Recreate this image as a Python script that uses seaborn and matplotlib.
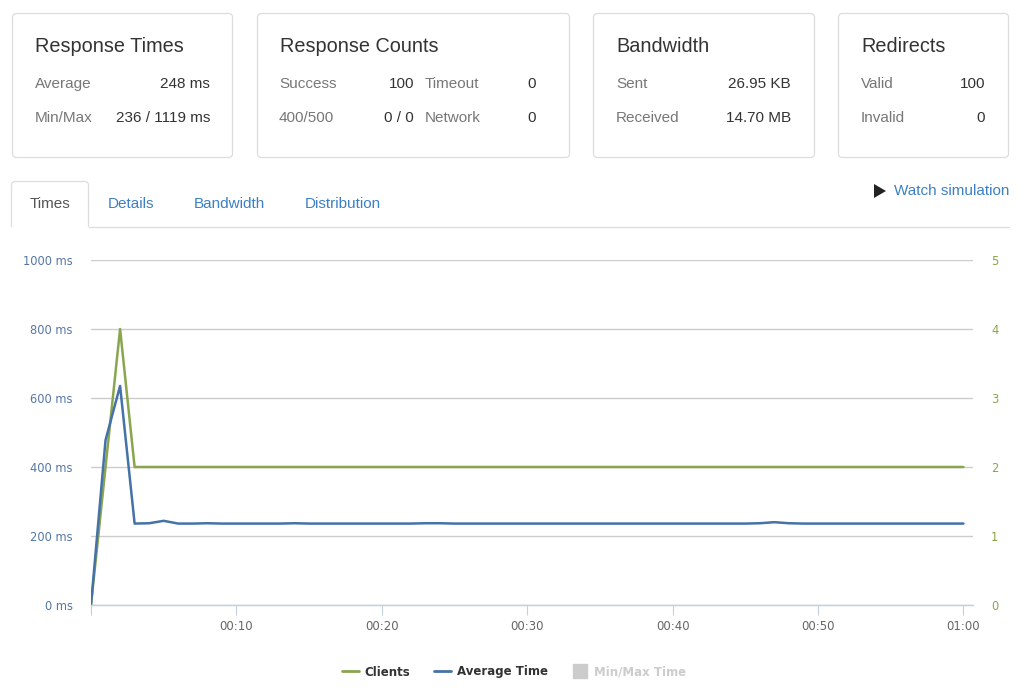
import matplotlib
matplotlib.use('Agg')
import matplotlib.pyplot as plt
import pandas as pd
import seaborn as sns
from matplotlib.patches import FancyBboxPatch, Rectangle, Polygon
from matplotlib.lines import Line2D

# data (one point per second)
seconds = list(range(61))
clients = [0, 2, 4, 2, 2, 2, 2, 2, 2, 2,
           2, 2, 2, 2, 2, 2, 2, 2, 2, 2,
           2, 2, 2, 2, 2, 2, 2, 2, 2, 2,
           2, 2, 2, 2, 2, 2, 2, 2, 2, 2,
           2, 2, 2, 2, 2, 2, 2, 2, 2, 2,
           2, 2, 2, 2, 2, 2, 2, 2, 2, 2, 2]
avg_ms = [0, 478, 635, 236, 237, 244, 236, 236, 237, 236,
          236, 236, 236, 236, 237, 236, 236, 236, 236, 236,
          236, 236, 236, 237, 237, 236, 236, 236, 236, 236,
          236, 236, 236, 236, 236, 236, 236, 236, 236, 236,
          236, 236, 236, 236, 236, 236, 237, 240, 237, 236,
          236, 236, 236, 236, 236, 236, 236, 236, 236, 236, 236]
time_ticks = [0, 10, 20, 30, 40, 50, 60]
time_labels = ['', '00:10', '00:20', '00:30', '00:40', '00:50', '01:00']
ms_ticks = [0, 200, 400, 600, 800, 1000]
client_ticks = [0, 1, 2, 3, 4, 5]

card_titles = ['Response Times', 'Response Counts', 'Bandwidth', 'Redirects']
rt_labels = ['Average', 'Min/Max']
rt_values = ['248 ms', '236 / 1119 ms']
rc_labels = ['Success', '400/500']
rc_values = ['100', '0 / 0']
rc_labels2 = ['Timeout', 'Network']
rc_values2 = ['0', '0']
bw_labels = ['Sent', 'Received']
bw_values = ['26.95 KB', '14.70 MB']
rd_labels = ['Valid', 'Invalid']
rd_values = ['100', '0']
tab_names = ['Times', 'Details', 'Bandwidth', 'Distribution']

green = '#89A54E'
blue = '#4572A7'
html_font = 'Liberation Sans'

sns.set_style('white')
plt.rcParams['font.family'] = ['DejaVu Sans']

fig = plt.figure(figsize=(10.24, 6.91), dpi=100)

# page overlay in pixel coordinates
bg = fig.add_axes([0, 0, 1, 1])
bg.set_xlim(0, 1024)
bg.set_ylim(691, 0)
bg.axis('off')
bg.set_zorder(-5)


def card(x0, x1, y0=13, y1=157):
    bg.add_patch(FancyBboxPatch((x0 + 0.5, y0 + 0.5), x1 - x0, y1 - y0,
                                boxstyle='round,pad=0,rounding_size=4',
                                fc='white', ec='#dddddd', lw=0.9))


def txt(x, y, s, color='#333333', size=11, ha='left'):
    bg.text(x, y, s, ha=ha, va='center', fontsize=size, color=color,
            family=html_font)


card_x = [(12, 232), (257, 569), (593, 814), (838, 1008)]
for (x0, x1), title in zip(card_x, card_titles):
    card(x0, x1)
    txt(x0 + 23, 46, title, size=14.3)

row_y = [84, 118]
for y, lab, val in zip(row_y, rt_labels, rt_values):
    txt(35, y, lab, color='#777777')
    txt(210, y, val, ha='right')
for y, lab, val, lab2, val2 in zip(row_y, rc_labels, rc_values, rc_labels2, rc_values2):
    txt(279, y, lab, color='#777777')
    txt(414, y, val, ha='right')
    txt(425, y, lab2, color='#777777')
    txt(536, y, val2, ha='right')
for y, lab, val in zip(row_y, bw_labels, bw_values):
    txt(616, y, lab, color='#777777')
    txt(791, y, val, ha='right')
for y, lab, val in zip(row_y, rd_labels, rd_values):
    txt(861, y, lab, color='#777777')
    txt(985, y, val, ha='right')

# tabs
bg.add_patch(FancyBboxPatch((11.5, 181.5), 77, 60,
                            boxstyle='round,pad=0,rounding_size=4',
                            fc='white', ec='#dddddd', lw=0.9))
bg.add_patch(Rectangle((5, 227.2), 90, 20, fc='white', ec='none'))
bg.plot([88.5, 1009], [226.5, 226.5], color='#dddddd', lw=0.9)
tab_x = [50, 108, 194, 305]
txt(tab_x[0], 204, tab_names[0], color='#555555', ha='center')
for x, name in zip(tab_x[1:], tab_names[1:]):
    txt(x, 204, name, color='#3c80c3')
bg.add_patch(Polygon([(874, 184), (874, 198), (886, 191)], closed=True,
                     fc='#222222', ec='none'))
txt(1009, 191, 'Watch simulation', color='#3c80c3', ha='right')

# chart
df = pd.DataFrame({'seconds': seconds, 'clients': clients, 'avg_ms': avg_ms})

ax = fig.add_axes([91 / 1024, 86 / 691, 882 / 1024, 345 / 691])
ax2 = ax.twinx()
sns.lineplot(data=df, x='seconds', y='clients', ax=ax2, color=green, lw=1.8)
sns.lineplot(data=df, x='seconds', y='avg_ms', ax=ax, color=blue, lw=1.8)
ax.set_zorder(ax2.get_zorder() + 1)
ax.patch.set_visible(False)

ax.set_xlim(0, 882 / 14.54)
ax.set_ylim(0, 1000)
ax2.set_ylim(0, 5)
ax.set_yticks(ms_ticks)
ax.set_yticklabels([f'{v} ms' for v in ms_ticks])
ax2.set_yticks(client_ticks)
ax2.set_yticklabels([str(v) for v in client_ticks])
ax.set_xticks(time_ticks)
ax.set_xticklabels(time_labels)
ax.grid(False)
ax2.grid(axis='y', color='#cccccc', lw=1.0)
ax2.grid(axis='x', visible=False)
ax.set_xlabel('')
ax.set_ylabel('')
ax2.set_ylabel('')

for s in ['top', 'left', 'right']:
    ax.spines[s].set_visible(False)
    ax2.spines[s].set_visible(False)
ax2.spines['bottom'].set_visible(False)
ax.spines['bottom'].set_color('#C0D0E0')
ax.spines['bottom'].set_linewidth(1.0)

ax.tick_params(axis='x', length=7.2, width=0.8, color='#C0D0E0',
               labelcolor='#666666', labelsize=8.5, pad=3.5, bottom=True)
ax.tick_params(axis='y', length=0, labelcolor='#5677a6', labelsize=8.3, pad=13)
ax2.tick_params(axis='y', length=0, labelcolor=green, labelsize=8.3, pad=13)

handles = [Line2D([], [], color=green, lw=2),
           Line2D([], [], color=blue, lw=2),
           Line2D([], [], marker='s', ls='none', color='#cccccc', markersize=9.4)]
leg = fig.legend(handles, ['Clients', 'Average Time', 'Min/Max Time'],
                 loc='center', bbox_to_anchor=(514 / 1024, 1 - 672 / 691),
                 ncol=3, frameon=False, prop={'weight': 'bold', 'size': 8.5},
                 handlelength=1.44, handletextpad=0.5, columnspacing=2.0)
for t, c in zip(leg.get_texts(), ['#333333', '#333333', '#cccccc']):
    t.set_color(c)

fig.savefig('out.png', dpi=100)
